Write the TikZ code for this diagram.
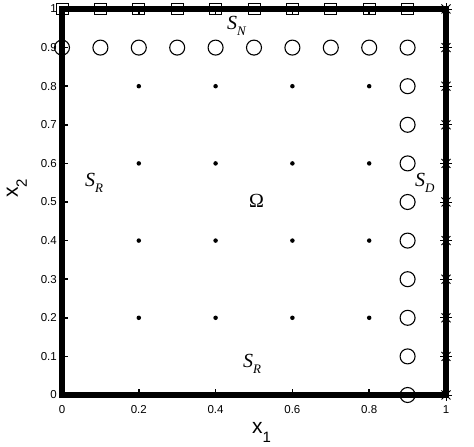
\documentclass[tikz,border=0pt]{standalone}
\usepackage{fontspec}
\setmainfont{Liberation Sans}
\newfontfamily\tnr{Liberation Serif}
\begin{document}
\begin{tikzpicture}[x=384pt,y=386pt,
  bnd/.style={line width=5.5pt, line join=miter},
  circ/.style={circle, draw, line width=1.1pt, minimum size=15pt, inner sep=0pt},
  sqm/.style={rectangle, draw, line width=0.6pt, minimum width=12pt, minimum height=11pt, inner sep=0pt},
  dotm/.style={circle, fill, minimum size=4.5pt, inner sep=0pt},
  tickm/.style={line width=1.5pt},
  ast/.style={line width=0.9pt},
  ylab/.style={anchor=east, inner sep=0pt, font=\fontsize{11.5}{11.5}\selectfont},
  xlab/.style={anchor=north, inner sep=0pt, font=\fontsize{11.5}{11.5}\selectfont},
  slab/.style={anchor=base west, inner sep=0pt, font=\tnr\itshape\fontsize{20}{20}\selectfont},
  axlab/.style={anchor=base west, inner sep=0pt, font=\fontsize{21}{21}\selectfont}
]
\useasboundingbox (-0.16146,-0.13472) rectangle (1.07292,1.02332);
% corners of the domain
\coordinate (A) at (0,0);
\coordinate (B) at (1,0);
\coordinate (C) at (1,1);
\coordinate (D) at (0,1);
% ticks
\foreach \i in {0,...,10} {
  \coordinate (yl\i) at (0,\i/10);
  \draw[tickm] (yl\i) -- ++(6pt,0);
  \node[ylab] (ytl\i) at ([xshift=-5pt]yl\i) {\ifnum\i=10 1\else\ifnum\i=0 0\else 0.\i\fi\fi};
}
\foreach \i in {0,2,4,6,8,10} {
  \coordinate (xb\i) at (\i/10,0);
  \coordinate (xt\i) at (\i/10,1);
  \draw[tickm] (xb\i) -- ++(0,6pt);
  \draw[tickm] (xt\i) -- ++(0,-6pt);
  \node[xlab] (xtl\i) at ([yshift=-10pt]xb\i) {\ifnum\i=10 1\else\ifnum\i=0 0\else 0.\i\fi\fi};
}
% boundary
\draw[bnd] (A) -- (B) -- (C) -- (D) -- cycle;
% interior dots
\foreach \i in {2,4,6,8} \foreach \j in {2,4,6,8}
  \node[dotm] (d\i\j) at (\i/10,\j/10) {};
% squares on top
\foreach \i in {0,...,9}
  \node[sqm] (s\i) at (\i/10,1) {};
% circles
\foreach \i in {0,...,9}
  \node[circ] (c\i) at (\i/10,0.9) {};
\foreach \j in {0,...,8}
  \node[circ] (r\j) at (0.9,\j/10) {};
% stars on right side
\foreach \j in {0,...,10} {
  \coordinate (st\j) at (1,\j/10);
  \draw[ast] ([xshift=-6pt]st\j) -- ([xshift=6pt]st\j);
  \draw[ast] ([yshift=-6pt]st\j) -- ([yshift=6pt]st\j);
  \draw[ast] ([shift={(-4.5pt,-4.5pt)}]st\j) -- ([shift={(4.5pt,4.5pt)}]st\j);
  \draw[ast] ([shift={(-4.5pt,4.5pt)}]st\j) -- ([shift={(4.5pt,-4.5pt)}]st\j);
}
% region labels
\node[slab] (SN) at (0.4297,0.9456) {S\raisebox{-0.3em}{\fontsize{13}{13}\selectfont N}};
\node[slab] (SD) at (0.9193,0.5389) {S\raisebox{-0.3em}{\fontsize{13}{13}\selectfont D}};
\node[slab] (SRl) at (0.0599,0.5389) {S\raisebox{-0.3em}{\fontsize{13}{13}\selectfont R}};
\node[slab] (SRb) at (0.4714,0.0725) {S\raisebox{-0.3em}{\fontsize{13}{13}\selectfont R}};
\node[anchor=base west, inner sep=0pt, font=\tnr\fontsize{20}{20}\selectfont] (Om) at (0.4870,0.4870) {Ω};
% axis labels
\node[axlab] (x1) at (0.4948,-0.1000) {x\raisebox{-0.42em}{\fontsize{15}{15}\selectfont 1}};
\node[axlab, rotate=90] (x2) at (-0.1146,0.5104) {x\raisebox{-0.42em}{\fontsize{15}{15}\selectfont 2}};
\end{tikzpicture}
\end{document}
